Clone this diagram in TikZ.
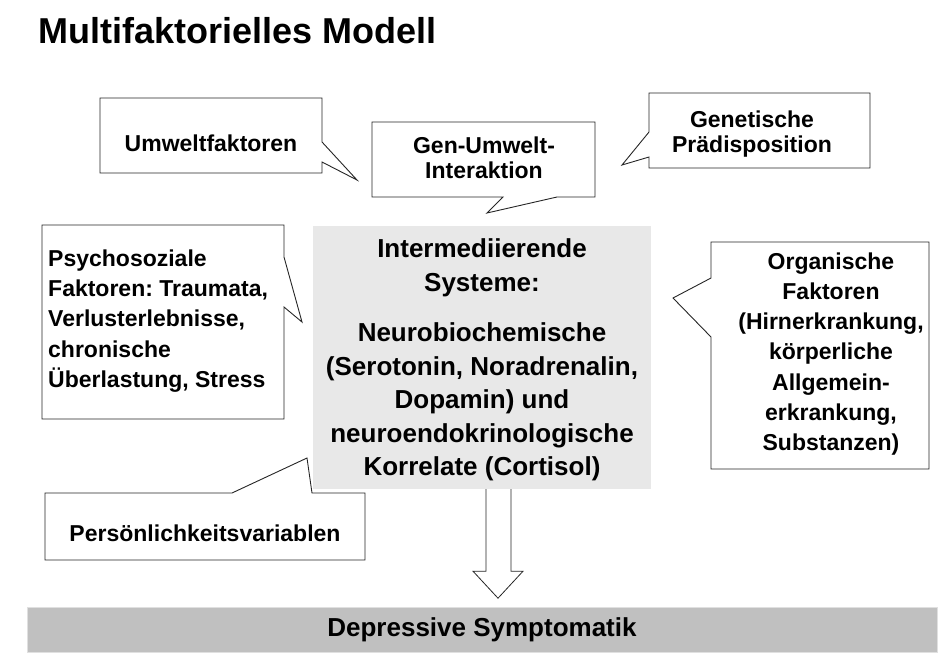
\documentclass[tikz,border=0pt]{standalone}
\usepackage{fontspec}
\setmainfont{Liberation Sans}
\usepackage{xcolor}
\usepackage{tikz}
\frenchspacing

\definecolor{boxgray}{HTML}{E8E8E8}
\definecolor{bargray}{HTML}{C0C0C0}
\definecolor{barline}{HTML}{E0E0E0}

\begin{document}
\begin{tikzpicture}[x=1pt, y=-1pt,
    callout/.style={draw=black!85, line width=0.9pt, fill=white, line join=miter},
    txt/.style={font=\bfseries\fontsize{23}{30.3}\selectfont, align=center, inner sep=0pt},
    tighttxt/.style={txt, font=\bfseries\fontsize{23}{25.5}\selectfont},
    bigtxt/.style={font=\bfseries\fontsize{26}{33.5}\selectfont, align=center, inner sep=0pt}
  ]
    \useasboundingbox (0,0) rectangle (952,667);

    % title
    \node[anchor=base west, inner sep=0pt, font=\bfseries\fontsize{36}{40}\selectfont] (title) at (38,43) {Multifaktorielles Modell};

    % callouts
    \draw[callout] (100,98) -- (322,98) -- (322,142) -- (357,180) -- (322,162) -- (322,173) -- (100,173) -- cycle;
    \node[txt] (umwelt) at (211,143) {Umweltfaktoren};

    \draw[callout] (372,122) -- (595,122) -- (595,197) -- (557,197) -- (487,213) -- (503,197) -- (372,197) -- cycle;
    \node[tighttxt] (genumwelt) at (484,158) {Gen-Umwelt-\\Interaktion};

    \draw[callout] (649,93) -- (870,93) -- (870,168) -- (649,168) -- (649,157) -- (622,165) -- (649,132) -- cycle;
    \node[tighttxt] (genetik) at (752,134) {Genetische\\Prädisposition};

    \draw[callout] (42,225) -- (284,225) -- (284,257) -- (302,322) -- (284,307) -- (284,419) -- (42,419) -- cycle;
    \node[txt, align=left, anchor=west] (psycho) at (48,321) {Psychosoziale\\Faktoren: Traumata,\\Verlusterlebnisse,\\chronische\\Überlastung, Stress};

    \draw[callout] (711,242) -- (929,242) -- (929,469) -- (711,469) -- (711,337) -- (673,298) -- (711,278) -- cycle;
    \node[txt] (organ) at (831,354) {Organische\\Faktoren\\(Hirnerkrankung,\\körperliche\\Allgemein-\\erkrankung,\\Substanzen)};

    % central box
    \node[fill=boxgray, minimum width=338pt, minimum height=263pt, inner sep=0pt] (inter) at (482,357.5) {};
    \node[bigtxt] (intertxt) at (482,360) {Intermediierende\\Systeme:\\[17pt]Neurobiochemische\\(Serotonin, Noradrenalin,\\Dopamin) und\\neuroendokrinologische\\Korrelate (Cortisol)};

    \draw[callout] (45,493) -- (232,493) -- (307,458) -- (312,493) -- (365,493) -- (365,560) -- (45,560) -- cycle;
    \node[txt] (person) at (205,533) {Persönlichkeitsvariablen};

    % bottom bar
    \node[fill=bargray, draw=barline, line width=1pt, minimum width=910pt, minimum height=45pt, inner sep=0pt] (bar) at (482,629.5) {};
    \node[bigtxt] (bartxt) at (482,630) {Depressive Symptomatik};

    % block arrow
    \draw[draw=black!85, line width=0.8pt, fill=white] (inter.south) ++(4,0) -- ++(0,82) -- ++(-13,0) -- ++(25,27) -- ++(25,-27) -- ++(-12,0) -- ++(0,-82);
\end{tikzpicture}
\end{document}
